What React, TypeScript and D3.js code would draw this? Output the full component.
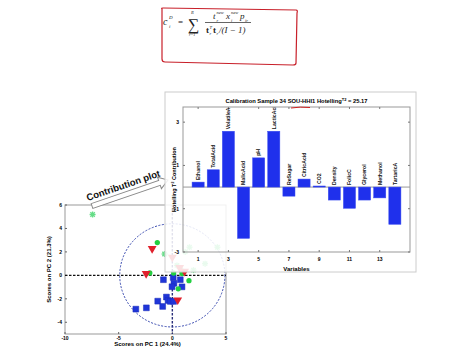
import React from 'react';
import * as d3 from 'd3';

const variables = ['Ethanol', 'TotalAcid', 'VolatileA', 'MalicAcid', 'pH', 'LacticAcid', 'ReSugar', 'CitricAcid', 'CO2', 'Density', 'FolicC', 'Glycerol', 'Methanol', 'TartaricA'];
const contributions = [0.23, 0.8, 2.58, -2.37, 1.35, 2.58, -0.42, 0.37, 0.05, -0.6, -0.98, -0.6, -0.5, -1.72];
const barYTicks = [-3, -1, 1, 3];
const barXTicks = [1, 3, 5, 7, 9, 11, 13];

const blueSquares: [number, number][] = [
  [-0.83, -0.37], [0.08, -0.18], [0.74, -0.37], [0.15, -0.68], [-0.03, -0.97], [0.9, -0.98],
  [-0.55, -1.85], [-0.4, -2.14], [-0.19, -2.22], [0.12, -2.22], [-1.36, -2.2], [-0.9, -2.65],
  [-2.42, -2.77], [-3.4, -2.88],
];
const redTriangles: [number, number][] = [[-1.88, 2.28], [-2.44, 0.15], [0.5, -2.1], [0.0, 1.55], [0.68, 0.66], [1.14, 0.34]];
const greenCircles: [number, number][] = [[-1.4, 2.8], [-2.1, 0.2], [0.55, -1.15], [1.55, -0.45], [0.12, 0.2], [0.9, 0.15]];
const lightStars: [number, number][] = [[-7.43, 5.19], [-0.72, 1.82], [1.6, 2.4], [1.2, 2.0], [4.2, 2.4], [3.05, 1.0], [1.97, 0.45], [0.43, 0.85], [0.74, 0.57]];
const scatterXTicks = [-10, -5, 0, 5];
const scatterYTicks = [-4, -2, 0, 2, 4, 6];

const FONT = '"Liberation Sans", Arial, sans-serif';
const SERIF = '"Liberation Serif", "Times New Roman", serif';

export default function App() {
  const sx = d3.scaleLinear().domain([-10, 5]).range([65, 226]);
  const sy = d3.scaleLinear().domain([-5, 6]).range([334, 205]);
  const bx = d3.scaleLinear().domain([0, 15]).range([183, 410]);
  const by = d3.scaleLinear().domain([-3, 3.7]).range([252, 107]);

  const tri = d3.symbol().type(d3.symbolTriangle).size(34)();
  const sq = d3.symbol().type(d3.symbolSquare).size(34)();
  const circ = d3.symbol().type(d3.symbolCircle).size(22)();

  // Arrow geometry
  const tail: [number, number] = [92, 206];
  const tip: [number, number] = [168, 180];
  const ang = Math.atan2(tip[1] - tail[1], tip[0] - tail[0]) * 180 / Math.PI;
  const len = Math.hypot(tip[0] - tail[0], tip[1] - tail[1]);
  const arrowPts = [[0, -2.5], [len - 9, -2.5], [len - 9, -6], [len, 0], [len - 9, 6], [len - 9, 2.5], [0, 2.5]]
    .map(p => p.join(',')).join(' ');

  const bw = bx(0.8) - bx(0);

  return (
    <svg width={474} height={355} style={{ position: 'absolute', left: 0, top: 0, background: '#fff' }}>
      <defs>
        <clipPath id="barClip">
          <rect x={bx(0)} y={by(3.7)} width={bx(15) - bx(0)} height={by(-3) - by(3.7)} />
        </clipPath>
      </defs>
      {/* ===== Scatter plot ===== */}
      <g fontFamily={FONT}>
        <rect x={sx(-10)} y={sy(6)} width={sx(5) - sx(-10)} height={sy(-5) - sy(6)} fill="#fff" stroke="#999" strokeWidth={1} />
        {scatterXTicks.map(t => (
          <g key={'sx' + t}>
            <line x1={sx(t)} x2={sx(t)} y1={sy(-5)} y2={sy(-5) - 2} stroke="#666" />
            <text x={sx(t)} y={sy(-5) + 5.5} fontSize={5} fontWeight="bold" textAnchor="middle">{t}</text>
          </g>
        ))}
        {scatterYTicks.map(t => (
          <g key={'sy' + t}>
            <line x1={sx(-10)} x2={sx(-10) + 2} y1={sy(t)} y2={sy(t)} stroke="#666" />
            <text x={sx(-10) - 3} y={sy(t) + 2} fontSize={5} fontWeight="bold" textAnchor="end">{t}</text>
          </g>
        ))}
        <text x={(sx(-10) + sx(5)) / 2 + 2} y={346} fontSize={6} fontWeight="bold" textAnchor="middle">Scores on PC 1 (24.4%)</text>
        <text transform={`translate(51,${(sy(6) + sy(-5)) / 2}) rotate(-90)`} fontSize={6} fontWeight="bold" textAnchor="middle">Scores on PC 2 (21.3%)</text>
        <ellipse cx={sx(0)} cy={sy(0)} rx={sx(4.9) - sx(0)} ry={sy(0) - sy(4.4)} fill="none" stroke="#3a4bb0" strokeWidth={1} strokeDasharray="2,1.5" />
        <line x1={sx(-10)} x2={sx(5)} y1={sy(0)} y2={sy(0)} stroke="#111" strokeWidth={1.4} strokeDasharray="2.5,1.5" />
        <line x1={sx(0)} x2={sx(0)} y1={sy(6)} y2={sy(-5)} stroke="#2a2f7a" strokeWidth={1.4} strokeDasharray="2.5,1.5" />
        {lightStars.map(([x, y], i) => (
          <g key={'st' + i} transform={`translate(${sx(x)},${sy(y)})`} stroke="#66dd88" strokeWidth={1.4}>
            <line x1={-3} x2={3} y1={0} y2={0} />
            <line x1={0} x2={0} y1={-3} y2={3} />
            <line x1={-2.2} x2={2.2} y1={-2.2} y2={2.2} />
            <line x1={-2.2} x2={2.2} y1={2.2} y2={-2.2} />
          </g>
        ))}
        {blueSquares.map(([x, y], i) => (
          <path key={'bs' + i} d={sq!} transform={`translate(${sx(x)},${sy(y)})`} fill="#1f35d8" stroke="#1a2cb8" strokeWidth={0.5} />
        ))}
        {greenCircles.map(([x, y], i) => (
          <path key={'gc' + i} d={circ!} transform={`translate(${sx(x)},${sy(y)})`} fill="#22d040" />
        ))}
        {redTriangles.map(([x, y], i) => (
          <path key={'rt' + i} d={tri!} transform={`translate(${sx(x)},${sy(y)}) rotate(180)`} fill="#e0202c" />
        ))}
      </g>

      {/* ===== Arrow ===== */}
      <g transform={`translate(${tail[0]},${tail[1]}) rotate(${ang})`}>
        <polygon points={arrowPts} fill="#fff" stroke="#888" strokeWidth={1} />
        <text x={len / 2 - 4} y={-6} fontFamily={FONT} fontSize={9.5} fontWeight="bold" textAnchor="middle" fill="#111">Contribution plot</text>
      </g>

      {/* ===== Bar chart figure ===== */}
      <rect x={165} y={92} width={251} height={180} fill="#fff" fillOpacity={0.86} stroke="#ccc" strokeWidth={1} />
      <g fontFamily={FONT}>
        <rect x={bx(0)} y={by(3.7)} width={bx(15) - bx(0)} height={by(-3) - by(3.7)} fill="none" stroke="#999" strokeWidth={1} />
        <line x1={bx(0)} x2={bx(15)} y1={by(0)} y2={by(0)} stroke="#999" strokeWidth={1} />
        {barYTicks.map(t => (
          <g key={'by' + t}>
            <line x1={bx(0)} x2={bx(0) + 2} y1={by(t)} y2={by(t)} stroke="#777" />
            <line x1={bx(15)} x2={bx(15) - 2} y1={by(t)} y2={by(t)} stroke="#777" />
            <text x={bx(0) - 4} y={by(t) + 2} fontSize={5} fontWeight="bold" textAnchor="end">{t}</text>
          </g>
        ))}
        {barXTicks.map(t => (
          <g key={'bx' + t}>
            <line x1={bx(t)} x2={bx(t)} y1={by(-3)} y2={by(-3) - 2} stroke="#777" />
            <line x1={bx(t)} x2={bx(t)} y1={by(3.7)} y2={by(3.7) + 2} stroke="#777" />
            <text x={bx(t)} y={by(-3) + 9} fontSize={5} fontWeight="bold" textAnchor="middle">{t}</text>
          </g>
        ))}
        {contributions.map((v, i) => (
          <rect key={'bar' + i} x={bx(i + 1) - bw / 2} y={by(Math.max(v, 0))} width={bw} height={Math.abs(by(v) - by(0))} fill="#1f30ec" stroke="#3a4cf0" strokeWidth={0.5} />
        ))}
        <g clipPath="url(#barClip)">
          {contributions.map((v, i) => (
            <text key={'lab' + i} transform={`translate(${bx(i + 1)},${by(Math.max(v, 0)) - 2}) rotate(-90)`} dy="0.35em" fontSize={5.2} fontWeight="bold" fill="#111">{variables[i]}</text>
          ))}
        </g>
        <text x={(bx(0) + bx(15)) / 2} y={by(-3) + 19} fontSize={6} fontWeight="bold" textAnchor="middle">Variables</text>
        <text transform={`translate(176,${(by(3.7) + by(-3)) / 2}) rotate(-90)`} fontSize={5.5} fontWeight="bold" textAnchor="middle">
          Hotelling T<tspan dy={-2} fontSize={3.5}>2</tspan><tspan dy={2}> Contribution</tspan>
        </text>
        <text x={(bx(0) + bx(15)) / 2} y={103} fontSize={5.8} fontWeight="bold" textAnchor="middle">
          Calibration Sample 34 SOU-HHI1 Hotelling<tspan dy={-2} fontSize={4}>T2</tspan><tspan dy={2}> = 25.17</tspan>
        </text>
        <path d="M291,108 Q300,106.5 310,107.5" fill="none" stroke="#d02020" strokeWidth={1} />
      </g>

      {/* ===== Formula box ===== */}
      <path d="M162,9 Q161,8 163,8 L296,10 Q298,10 297,13 L296,63 Q296,65 293,65 L165,62 Q162,62 162,59 Z" fill="none" stroke="#c8202a" strokeWidth={1.2} />
      <g fontFamily={SERIF} fill="#222" fontStyle="italic">
        <text x={163} y={25} fontSize={10}>c</text>
        <text x={169} y={19} fontSize={5}>D</text>
        <text x={169} y={27.5} fontSize={5}>i</text>
        <text x={178} y={25} fontSize={9} fontStyle="normal">=</text>
        <text x={188} y={30} fontSize={16} fontStyle="normal">∑</text>
        <text x={191} y={14} fontSize={4.5}>R</text>
        <text x={189} y={36} fontSize={4}>r=1</text>
        <text x={213} y={19} fontSize={9}>t</text>
        <text x={216.5} y={21.5} fontSize={4.5}>r</text>
        <text x={216.5} y={14} fontSize={4.5}>new</text>
        <text x={226} y={19} fontSize={9}>x</text>
        <text x={231} y={21.5} fontSize={4.5}>i</text>
        <text x={231} y={14} fontSize={4.5}>new</text>
        <text x={240} y={19} fontSize={9}>p</text>
        <text x={245} y={21.5} fontSize={4.5}>ir</text>
        <line x1={205} x2={251} y1={22.5} y2={22.5} stroke="#222" strokeWidth={0.7} />
        <text x={206} y={33} fontSize={9} fontWeight="bold" fontStyle="normal">t</text>
        <text x={209.5} y={29} fontSize={4.5}>T</text>
        <text x={209.5} y={35} fontSize={4.5}>r</text>
        <text x={213} y={33} fontSize={9} fontWeight="bold" fontStyle="normal">t</text>
        <text x={216.5} y={35} fontSize={4.5}>r</text>
        <text x={219} y={33} fontSize={9}>/(I − 1)</text>
      </g>
    </svg>
  );
}
